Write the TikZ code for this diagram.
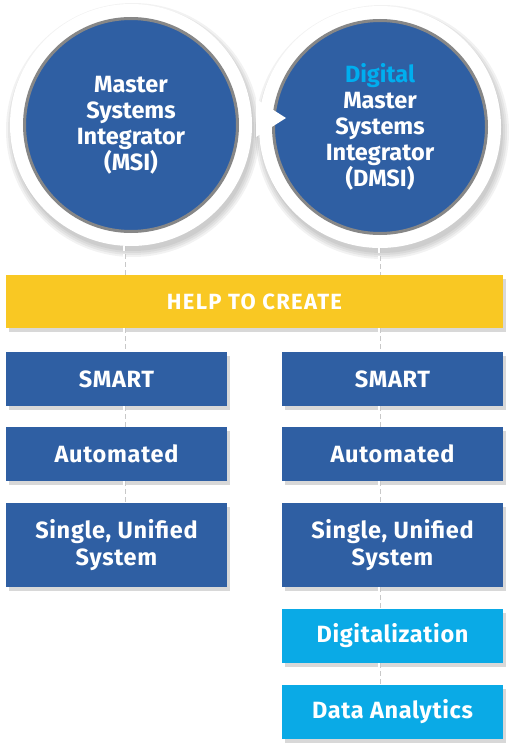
\documentclass[tikz,border=0pt]{standalone}
\usepackage{fontspec}
\setmainfont{Fira Sans}
\newfontfamily\boxfont{Fira Sans}[LetterSpace=3]
\newfontfamily\barfont{Fira Sans}[LetterSpace=6]
\usetikzlibrary{shadows}
\definecolor{dblue}{RGB}{47,95,163}
\definecolor{lblue}{RGB}{10,170,230}
\definecolor{dtext}{RGB}{0,174,239}
\definecolor{byellow}{RGB}{249,200,35}
\definecolor{ringgray}{RGB}{135,135,135}
\definecolor{dashgray}{RGB}{200,200,200}
\begin{document}
\begin{tikzpicture}[x=1pt,y=-1pt,
  boxbase/.style={rectangle, inner sep=0pt, text=white, align=center,
    minimum width=221pt, minimum height=54pt,
    font=\boxfont\bfseries\fontsize{23.5}{27}\selectfont,
    drop shadow={opacity=0.3, shadow xshift=3pt, shadow yshift=-4pt}},
  darkbox/.style={boxbase, fill=dblue},
  lightbox/.style={boxbase, fill=lblue},
  barbox/.style={boxbase, fill=byellow, minimum width=497pt, minimum height=53pt,
    font=\barfont\bfseries\fontsize{22}{26}\selectfont},
  outerring/.style={circle, fill=white, inner sep=0pt, minimum size=242pt},
  bluedisc/.style={circle, fill=dblue, draw=ringgray, line width=3pt, inner sep=0pt,
    minimum size=213pt, text=white, align=center,
    font=\bfseries\fontsize{23.5}{26}\selectfont},
  connbase/.style={draw=dashgray, line width=3pt, dash pattern=on 5pt off 3pt},
  conntop/.style={draw=white, line width=1.2pt, dash pattern=on 5pt off 3pt}
]
\useasboundingbox (0,0) rectangle (515,754);
\fill[white] (0,0) rectangle (515,754);

% soft shadows of the circle frames
\foreach \r in {121,123,125,127} {
  \fill[black, opacity=0.05] (133,130) circle (\r pt);
  \fill[black, opacity=0.05] (382,132) circle (\r pt);
}
\node[outerring] (msio) at (131,125) {};
\node[outerring] (dmsio) at (380,127) {};

\node[bluedisc] (msi) at (131,125) {Master\\Systems\\Integrator\\(MSI)};
\node[bluedisc] (dmsi) at (380,127) {{\color{dtext}Digital}\\Master\\Systems\\Integrator\\(DMSI)};

% pointer from the left frame into the right circle
\fill[white] (256,99) -- (286,118) -- (256,137) -- cycle;

% bar and boxes
\node[barbox] (bar) at (254.5,301.5) {HELP TO CREATE};

\node[darkbox] (lsmart) at (116.5,379) {SMART};
\node[darkbox] (lauto) at (116.5,454) {Automated};
\node[darkbox, minimum height=84pt] (lsingle) at (116.5,545) {Single, Unified\\System};

\node[darkbox] (rsmart) at (392.5,379) {SMART};
\node[darkbox] (rauto) at (392.5,454) {Automated};
\node[darkbox, minimum height=84pt] (rsingle) at (392.5,545) {Single, Unified\\System};
\node[lightbox] (rdig) at (392.5,636) {Digitalization};
\node[lightbox] (rdata) at (392.5,711.5) {Data Analytics};

% connector lines
\coordinate (lx) at (124,0);
\coordinate (rx) at (379,0);
\foreach \a/\b/\c in {msio/bar/lx, bar/lsmart/lx, lsmart/lauto/lx, lauto/lsingle/lx,
  dmsio/bar/rx, bar/rsmart/rx, rsmart/rauto/rx, rauto/rsingle/rx, rsingle/rdig/rx, rdig/rdata/rx} {
  \draw[connbase] (\a.south -| \c) -- (\b.north -| \c);
  \draw[conntop] (\a.south -| \c) -- (\b.north -| \c);
}
\end{tikzpicture}
\end{document}
